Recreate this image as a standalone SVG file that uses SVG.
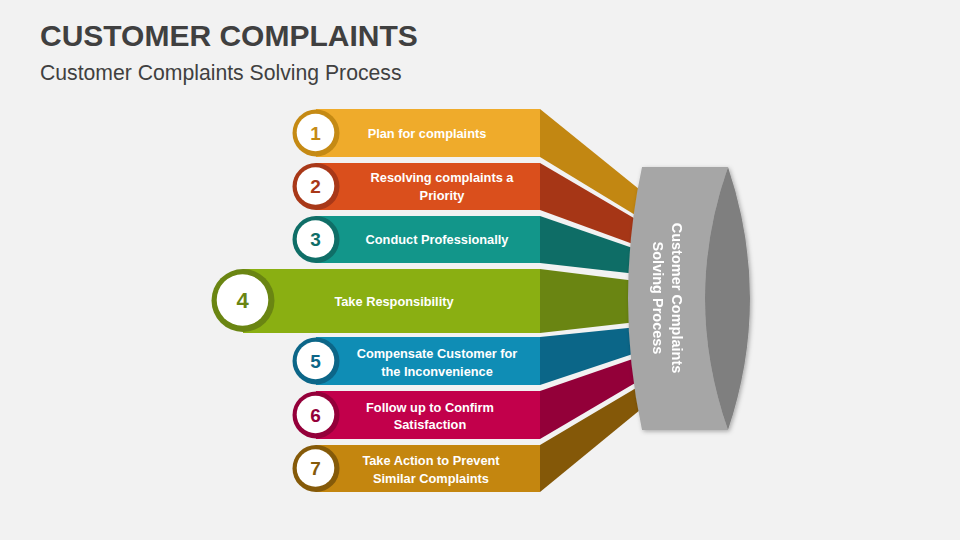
<svg xmlns="http://www.w3.org/2000/svg" width="960" height="540" viewBox="0 0 960 540">
<defs>
<filter id="sh" x="-20%" y="-20%" width="140%" height="140%">
<feDropShadow dx="1.5" dy="1.5" stdDeviation="2" flood-color="#000" flood-opacity="0.3"/>
</filter>
</defs>
<style>
.title{font-family:"Liberation Sans",Arial,sans-serif;font-weight:bold;font-size:30px;fill:#404040}
.sub{font-family:"Liberation Sans",Arial,sans-serif;font-size:21.2px;fill:#404040}
.lbl{font-family:"Liberation Sans",Arial,sans-serif;font-weight:bold;font-size:12.8px;fill:#fff;text-anchor:middle}
.num{font-family:"Liberation Sans",Arial,sans-serif;font-weight:bold;font-size:19px;text-anchor:middle}
.num4{font-family:"Liberation Sans",Arial,sans-serif;font-weight:bold;font-size:22px;text-anchor:middle}
.cyl{font-family:"Liberation Sans",Arial,sans-serif;font-weight:bold;font-size:14.5px;fill:#fff;text-anchor:middle}
.w{fill:#fff}
</style>
<rect width="960" height="540" fill="#F2F2F2"/>
<text class="title" x="40" y="46">CUSTOMER COMPLAINTS</text>
<text class="sub" x="40" y="80">Customer Complaints Solving Process</text>

<g id="step1">
<polygon points="540,109 650,198 650,224 540,157" fill="#C28712"/>
<rect x="316" y="109" width="224" height="48" fill="#EFAB2B"/>
<circle cx="316" cy="133" r="23.5" fill="#C58A14"/>
<circle cx="315.5" cy="132.5" r="18.8" class="w"/>
<text class="num" x="315.5" y="139.5" fill="#C58A14">1</text>
<text class="lbl" x="427" y="137.5">Plan for complaints</text>
</g>

<g id="step2">
<polygon points="540,163 650,227.6 650,250.3 540,210" fill="#A63616"/>
<rect x="316" y="163" width="224" height="47" fill="#DA4F1C"/>
<circle cx="316" cy="186.5" r="23.5" fill="#A83818"/>
<circle cx="315.5" cy="186" r="18.8" class="w"/>
<text class="num" x="315.5" y="193" fill="#A83818">2</text>
<text class="lbl" x="442" y="181.5">Resolving complaints a</text>
<text class="lbl" x="442" y="199.5">Priority</text>
</g>

<g id="step3">
<polygon points="540,216 650,253.9 650,275.5 540,263" fill="#0E6D66"/>
<rect x="316" y="216" width="224" height="47" fill="#12968A"/>
<circle cx="316" cy="239.5" r="23.5" fill="#0F6E67"/>
<circle cx="315.5" cy="239" r="18.8" class="w"/>
<text class="num" x="315.5" y="246" fill="#0F6E67">3</text>
<text class="lbl" x="437" y="244">Conduct Professionally</text>
</g>

<g id="step4">
<polygon points="540,269 650,282.8 650,320.5 540,333" fill="#6A8512"/>
<rect x="243" y="269" width="297" height="64" fill="#8AAF12"/>
<circle cx="243" cy="300.5" r="31.5" fill="#6A8512"/>
<circle cx="242.5" cy="300" r="25.8" class="w"/>
<text class="num4" x="242.5" y="308" fill="#6A8512">4</text>
<text class="lbl" x="394" y="305.5">Take Responsibility</text>
</g>

<g id="step5">
<polygon points="540,337 650,325.8 650,348.3 540,385" fill="#0B6688"/>
<rect x="316" y="337" width="224" height="48" fill="#0F8DB5"/>
<circle cx="316" cy="361" r="23.5" fill="#0C6688"/>
<circle cx="315.5" cy="360.5" r="18.8" class="w"/>
<text class="num" x="315.5" y="367.5" fill="#0C6688">5</text>
<text class="lbl" x="437" y="357.5">Compensate Customer for</text>
<text class="lbl" x="437" y="375.5">the Inconvenience</text>
</g>

<g id="step6">
<polygon points="540,391 650,353.1 650,374.2 540,439" fill="#930039"/>
<rect x="316" y="391" width="224" height="48" fill="#C2004B"/>
<circle cx="316" cy="415" r="23.5" fill="#94003A"/>
<circle cx="315.5" cy="414.5" r="18.8" class="w"/>
<text class="num" x="315.5" y="421.5" fill="#94003A">6</text>
<text class="lbl" x="430" y="411.5">Follow up to Confirm</text>
<text class="lbl" x="430" y="429">Satisfaction</text>
</g>

<g id="step7">
<polygon points="540,445 650,379.7 650,401.8 540,492" fill="#845808"/>
<rect x="316" y="445" width="224" height="47" fill="#C4860F"/>
<circle cx="316" cy="468.5" r="23.5" fill="#855A09"/>
<circle cx="315.5" cy="468" r="18.8" class="w"/>
<text class="num" x="315.5" y="475" fill="#855A09">7</text>
<text class="lbl" x="431" y="464.5">Take Action to Prevent</text>
<text class="lbl" x="431" y="482.5">Similar Complaints</text>
</g>

<g id="hub" filter="url(#sh)">
<path d="M642,167 L728,167 Q682,298.5 728,430 L642,430 Q614,298.5 642,167 Z" fill="#A6A6A6"/>
<path d="M728,167 Q772,298.5 728,430 Q682,298.5 728,167 Z" fill="#7F7F7F"/>
<g transform="translate(672,298) rotate(90)">
<text class="cyl" x="0" y="0">Customer Complaints</text>
<text class="cyl" x="0" y="19">Solving Process</text>
</g>
</g>
</svg>
